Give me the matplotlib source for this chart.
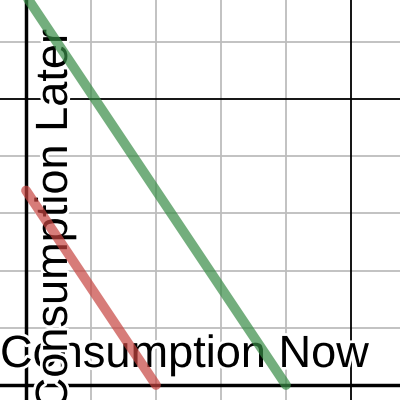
import numpy as np
import matplotlib.pyplot as plt
import matplotlib.patheffects as pe

# budget lines (consumption now, consumption later)
red_now = [0, 2]
red_later = [3.4, 0]
green_now = [0, 4]
green_later = [6.8, 0]

x_label = "Consumption Now"
y_label = "Consumption Later"

grid_x = [1, 2, 3, 4, 5]
grid_y = [1, 2, 3, 4, 5, 6]
major_every = 5

plt.rcParams['font.family'] = ['Liberation Sans', 'DejaVu Sans']

fig = plt.figure(figsize=(4, 4), dpi=100)
ax = fig.add_axes([0, 0, 1, 1])
ax.set_xlim(-0.4, 5.754)
ax.set_ylim(-0.262, 6.73)
ax.axis("off")

for gx in grid_x:
    if gx % major_every == 0:
        ax.axvline(gx, color="black", lw=1.3, zorder=1)
    else:
        ax.axvline(gx, color="#bdbdbd", lw=1.3, zorder=0)
for gy in grid_y:
    if gy % major_every == 0:
        ax.axhline(gy, color="black", lw=1.3, zorder=1)
    else:
        ax.axhline(gy, color="#bdbdbd", lw=1.3, zorder=0)
ax.axvline(0, color="black", lw=2.5, zorder=2)
ax.axhline(0, color="black", lw=2.5, zorder=2)

halo = [pe.withStroke(linewidth=4, foreground="white")]
ax.text(-0.4, 0.315, x_label, fontsize=32.5, ha="left", va="baseline",
        path_effects=halo, zorder=3)
ax.text(0.63, 6.21, y_label, fontsize=32.5, rotation=90, rotation_mode="anchor",
        ha="right", va="baseline", path_effects=halo, zorder=3)

ax.plot(red_now, red_later, color="#c74440", alpha=0.7, lw=7,
        solid_capstyle="round", zorder=4)
ax.plot(green_now, green_later, color="#388c46", alpha=0.7, lw=7,
        solid_capstyle="round", zorder=4)

fig.savefig("out.png", dpi=100)
